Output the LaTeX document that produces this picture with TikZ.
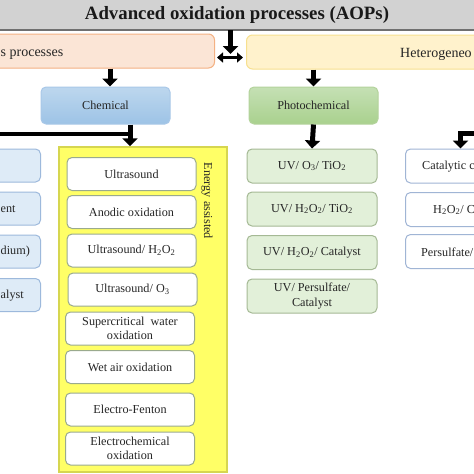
\documentclass[tikz,border=0pt]{standalone}
\usepackage{fontspec}
\setmainfont{Liberation Serif}
\usepackage{xcolor}
\usepackage{tikz}
\usetikzlibrary{arrows.meta,positioning}

\definecolor{titlegray}{HTML}{D2D2D2}
\definecolor{bandline}{HTML}{707070}
\definecolor{homofill}{HTML}{FBE5D6}
\definecolor{homoline}{HTML}{F4B183}
\definecolor{hetfill}{HTML}{FFF2CC}
\definecolor{hetline}{HTML}{F7E08F}
\definecolor{chemtop}{HTML}{BDD7EE}
\definecolor{chembot}{HTML}{9DC3E6}
\definecolor{chemline}{HTML}{A9C8E8}
\definecolor{phototop}{HTML}{C5E0B4}
\definecolor{photobot}{HTML}{A9D18E}
\definecolor{photoline}{HTML}{B4D39C}
\definecolor{lfill}{HTML}{DEEBF7}
\definecolor{lline}{HTML}{9DB9DC}
\definecolor{gfill}{HTML}{E2F0D9}
\definecolor{gline}{HTML}{A5B995}
\definecolor{yfill}{HTML}{FFFF66}
\definecolor{yline}{HTML}{D6D650}
\definecolor{eline}{HTML}{9AAA8E}
\definecolor{rline}{HTML}{A0B5D5}
\definecolor{textgray}{HTML}{262626}

\begin{document}
\begin{tikzpicture}[
  x=1pt,y=-1pt,
  txt/.style={font=\fontsize{12.2}{14.5}\selectfont,text=textgray,inner sep=0pt,align=center},
  toptxt/.style={font=\fontsize{14}{16}\selectfont,text=textgray,inner sep=0pt},
  titlebar/.style={fill=titlegray,minimum width=490pt,minimum height=30pt,inner sep=0pt,
                   font=\fontsize{18.8}{22}\selectfont\bfseries,text=black!90},
  topbox/.style={rounded corners=6pt,line width=1pt,minimum width=300pt,minimum height=34pt},
  midbox/.style={rounded corners=5pt,line width=1pt,minimum width=129pt,minimum height=37pt,txt},
  lbox/.style={rounded corners=5pt,line width=1pt,fill=lfill,draw=lline,minimum width=80pt,minimum height=33pt},
  gbox/.style={rounded corners=5pt,line width=1pt,fill=gfill,draw=gline,minimum width=130pt,minimum height=34pt,txt},
  ebox/.style={rounded corners=5pt,line width=1pt,fill=white,draw=eline,minimum width=129pt,minimum height=33pt,txt},
  rbox/.style={rounded corners=5pt,line width=1pt,fill=white,draw=rline,minimum width=100pt,minimum height=34pt},
  fatarrow/.style={-{Triangle[width=15pt,length=8pt]},line width=5pt,black},
  fatline/.style={line width=4.5pt,black},
  dblarrow/.style={{Triangle[width=10pt,length=6pt]}-{Triangle[width=10pt,length=6pt]},line width=2.5pt,black}
]
\fill[white] (0,0) rectangle (474,474);
\useasboundingbox (0,0) rectangle (474,474);
\clip (0,0) rectangle (474,474);

\node[titlebar] (title) at (237,15) {Advanced oxidation processes (AOPs)};
\draw[bandline,line width=2pt] (title.south west) -- (title.south east);
\draw[gray!75,line width=1pt] (title.north west) -- (title.north east);

\node[topbox,fill=homofill,draw=homoline,anchor=east] (homo) at (215,51) {};
\node[toptxt,anchor=base west] (homo-txt) at (0.5,56) {s processes};
\node[topbox,fill=hetfill,draw=hetline,anchor=west] (hetero) at (246,52) {};
\node[toptxt,anchor=base west] (hetero-txt) at (400,57) {Heterogeneo};

\node[midbox,top color=chemtop,bottom color=chembot,draw=chemline] (chem) at (105.5,105.5) {Chemical};
\node[midbox,top color=phototop,bottom color=photobot,draw=photoline] (photo) at (313.5,105.5) {Photochemical};

\node[lbox,anchor=east] (l1) at (41,165.5) {};
\node[lbox,anchor=east] (l2) at (41,208.5) {};
\node[lbox,anchor=east] (l3) at (41,251.5) {};
\node[lbox,anchor=east] (l4) at (41,295) {};
\node[txt,anchor=west] (l2-txt) at (0.5,209) {ent};
\node[txt,anchor=west] (l3-txt) at (0.5,252) {dium)};
\node[txt,anchor=west] (l4-txt) at (0.5,295.5) {alyst};

\node[fill=yfill,draw=yline,line width=1.5pt,minimum width=168pt,minimum height=325pt] (energy) at (143,309.5) {};
\node[txt,rotate=-90] (energy-lbl) at (207,201) {Energy assisted};
\node[ebox] (e1) at (131.5,174) {Ultrasound};
\node[ebox] (e2) at (131.5,212) {Anodic oxidation};
\node[ebox] (e3) at (131.5,250.5) {Ultrasound/ H\textsubscript{2}O\textsubscript{2}};
\node[ebox] (e4) at (132.5,289.5) {Ultrasound/ O\textsubscript{3}};
\node[ebox] (e5) at (130,328.5) {Supercritical~ water\\oxidation};
\node[ebox] (e6) at (130,367) {Wet air oxidation};
\node[ebox] (e7) at (130,409.5) {Electro-Fenton};
\node[ebox] (e8) at (130,448.5) {Electrochemical\\oxidation};

\node[gbox] (g1) at (312,166) {UV/ O\textsubscript{3}/ TiO\textsubscript{2}};
\node[gbox] (g2) at (312,209) {UV/ H\textsubscript{2}O\textsubscript{2}/ TiO\textsubscript{2}};
\node[gbox] (g3) at (312,252.5) {UV/ H\textsubscript{2}O\textsubscript{2}/ Catalyst};
\node[gbox] (g4) at (312,296) {UV/ Persulfate/\\Catalyst};

\node[rbox,anchor=west] (r1) at (405,166) {};
\node[rbox,anchor=west] (r2) at (405,209.5) {};
\node[rbox,anchor=west] (r3) at (405,251.5) {};
\node[txt,anchor=west] (r1-txt) at (422,166.5) {Catalytic c};
\node[txt,anchor=west] (r2-txt) at (433,210) {H\textsubscript{2}O\textsubscript{2}/ C};
\node[txt,anchor=west] (r3-txt) at (421,252) {Persulfate/};

\coordinate (mid) at (230.5,57.5);
\coordinate (chem-in) at ([xshift=4.5pt]chem.north);
\coordinate (split) at (130,134);
\coordinate (far-left) at (-6,134);
\coordinate (far-right) at (480,133);
\coordinate (r-in) at ([xshift=5pt]r1.north);

\draw[fatarrow,shorten >=3.5pt] (title.south -| mid) -- (mid);
\draw[dblarrow,shorten <=2pt,shorten >=3pt] (homo.east |- mid) -- (hetero.west |- mid);
\draw[fatarrow] (homo.south -| chem-in) -- (chem-in);
\draw[fatarrow] (hetero.south -| photo.north) -- (photo.north);
\draw[fatline] (split) -- (far-left);
\draw[fatarrow] (chem.south -| split) -- (energy.north -| split);
\draw[fatarrow] (photo.south) -- (g1.north);
\draw[fatarrow] (far-right) -| (r-in);
\end{tikzpicture}
\end{document}
